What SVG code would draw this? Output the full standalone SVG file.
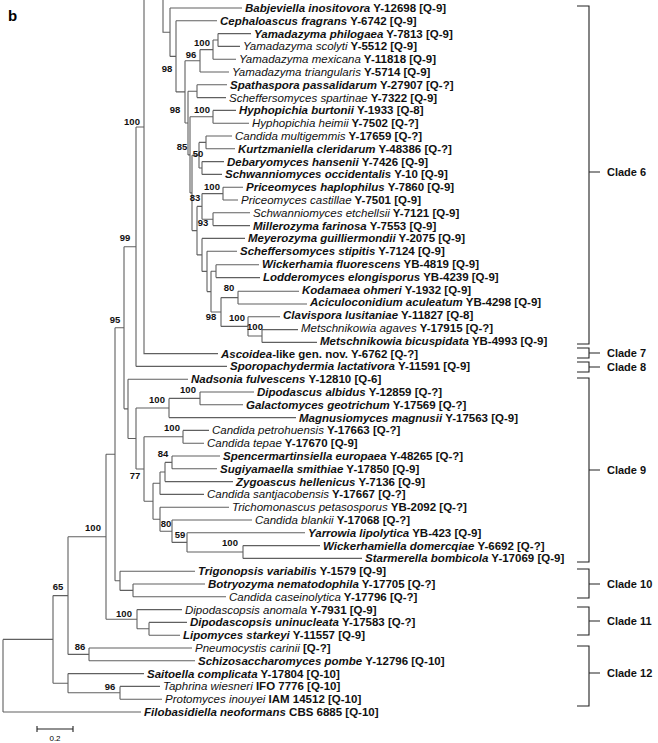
<svg xmlns="http://www.w3.org/2000/svg" width="658" height="743" viewBox="0 0 658 743">
<style>
.br{fill:none;stroke:#606060;stroke-width:1.1}
.lf{font-family:"Liberation Sans",Arial,sans-serif;font-size:11.5px;font-weight:bold;fill:#111}
.ib{font-style:italic}
.in{font-style:italic;font-weight:normal}
.bs{font-family:"Liberation Sans",Arial,sans-serif;font-size:9.5px;font-weight:bold;fill:#111;text-anchor:middle}
.cl{font-family:"Liberation Sans",Arial,sans-serif;font-size:11px;font-weight:bold;fill:#111}
.bk{fill:none;stroke:#222;stroke-width:1.1}
</style>
<rect width="658" height="743" fill="#fff"/>
<text x="8" y="21" style="font-family:'Liberation Sans',Arial,sans-serif;font-size:15px;font-weight:bold">b</text>
<g id="connectors" class="br">
<path d="M163 0 V32.2 H170"/>
<path d="M144 0 V353.6 H218"/>
<path d="M170 8 V56.4 M170 8 H242 M170 56.4 H176"/>
<path d="M176 20.8 V91.9 M176 20.8 H217 M176 91.9 H185"/>
<path d="M185 60.8 V123 M185 60.8 H200 M185 123 H188"/>
<path d="M200 49.6 V72 M200 49.6 H213 M200 72 H229"/>
<path d="M213 40 V59.2 M213 40 H218 M213 59.2 H236"/>
<path d="M218 33.6 V46.4 M218 33.6 H251 M218 46.4 H240"/>
<path d="M188 91.2 V154.9 M188 91.2 H197 M188 154.9 H190"/>
<path d="M197 84.8 V97.6 M197 84.8 H227 M197 97.6 H226"/>
<path d="M190 116.8 V192.9 M190 116.8 H213 M190 192.9 H192"/>
<path d="M213 110.4 V123.2 M213 110.4 H236 M213 123.2 H249"/>
<path d="M192 155.2 V230.6 M192 155.2 H199 M192 230.6 H197"/>
<path d="M199 142.4 V168 M199 142.4 H206 M199 168 H202"/>
<path d="M206 136 V148.8 M206 136 H232 M206 148.8 H235"/>
<path d="M202 161.6 V174.4 M202 161.6 H224 M202 174.4 H222"/>
<path d="M197 206.4 V254.9 M197 206.4 H202 M197 254.9 H202"/>
<path d="M202 193.6 V219.2 M202 193.6 H223 M202 219.2 H213"/>
<path d="M223 187.2 V200 M223 187.2 H243 M223 200 H238"/>
<path d="M213 212.8 V225.6 M213 212.8 H250 M213 225.6 H250"/>
<path d="M202 238.4 V271.4 M202 238.4 H245 M202 271.4 H207"/>
<path d="M207 251.2 V291.6 M207 251.2 H237 M207 291.6 H211"/>
<path d="M211 271.2 V312 M211 271.2 H216 M211 312 H221"/>
<path d="M216 264.8 V277.6 M216 264.8 H259 M216 277.6 H260"/>
<path d="M221 297.6 V326.4 M221 297.6 H238 M221 326.4 H248"/>
<path d="M238 291.2 V304 M238 291.2 H299 M238 304 H307"/>
<path d="M248 316.8 V336 M248 316.8 H280 M248 336 H262"/>
<path d="M262 329.6 V342.4 M262 329.6 H298 M262 342.4 H317"/>
<path d="M136 127 V366.4 M136 127 H144 M136 366.4 H227"/>
<path d="M124 246.7 V408.85 M124 246.7 H136 M124 408.85 H128"/>
<path d="M128 379.2 V438.5 M128 379.2 H188 M128 438.5 H136"/>
<path d="M136 408 V469 M136 408 H169 M136 469 H144"/>
<path d="M169 398.4 V417.6 M169 398.4 H200 M169 417.6 H296"/>
<path d="M200 392 V404.8 M200 392 H254 M200 404.8 H243"/>
<path d="M144 436.8 V501.2 M144 436.8 H183 M144 501.2 H153"/>
<path d="M183 430.4 V443.2 M183 430.4 H209 M183 443.2 H204"/>
<path d="M153 483.2 V519.2 M153 483.2 H160 M153 519.2 H160"/>
<path d="M160 472 V494.4 M160 472 H165 M160 494.4 H204"/>
<path d="M165 462.4 V481.6 M165 462.4 H172 M165 481.6 H233"/>
<path d="M172 456 V468.8 M172 456 H220 M172 468.8 H217"/>
<path d="M160 507.2 V531.2 M160 507.2 H229 M160 531.2 H172"/>
<path d="M172 520 V542.4 M172 520 H252 M172 542.4 H187"/>
<path d="M187 532.8 V552 M187 532.8 H305 M187 552 H243"/>
<path d="M243 545.6 V558.4 M243 545.6 H320 M243 558.4 H362"/>
<path d="M115 327.8 V580.8 M115 327.8 H124 M115 580.8 H120"/>
<path d="M120 571.2 V590.4 M120 571.2 H195 M120 590.4 H133"/>
<path d="M133 584 V596.8 M133 584 H205 M133 596.8 H226"/>
<path d="M106 454.3 V619.2 M106 454.3 H115 M106 619.2 H137"/>
<path d="M137 609.6 V628.8 M137 609.6 H182 M137 628.8 H149"/>
<path d="M149 622.4 V635.2 M149 622.4 H187 M149 635.2 H180"/>
<path d="M68 536.7 V654.4 M68 536.7 H106 M68 654.4 H89"/>
<path d="M89 648 V660.8 M89 648 H192 M89 660.8 H195"/>
<path d="M53 595.6 V683.2 M53 595.6 H68 M53 683.2 H68"/>
<path d="M68 673.6 V692.8 M68 673.6 H144 M68 692.8 H120"/>
<path d="M120 686.4 V699.2 M120 686.4 H160 M120 699.2 H162"/>
<path d="M3 639.4 V712 M3 639.4 H53 M3 712 H141"/>
</g>
<g id="leaves" class="lf">
<g id="leaf-0"><text x="245" y="12"><tspan class="ib">Babjeviella inositovora</tspan> Y-12698 [Q-9]</text></g>
<g id="leaf-1"><text x="220" y="24.8"><tspan class="ib">Cephaloascus fragrans</tspan> Y-6742 [Q-9]</text></g>
<g id="leaf-2"><text x="254" y="37.6"><tspan class="ib">Yamadazyma philogaea</tspan> Y-7813 [Q-9]</text></g>
<g id="leaf-3"><text x="243" y="50.4"><tspan class="in">Yamadazyma scolyti</tspan> Y-5512 [Q-9]</text></g>
<g id="leaf-4"><text x="239" y="63.2"><tspan class="in">Yamadazyma mexicana</tspan> Y-11818 [Q-9]</text></g>
<g id="leaf-5"><text x="232" y="76"><tspan class="in">Yamadazyma triangularis</tspan> Y-5714 [Q-9]</text></g>
<g id="leaf-6"><text x="230" y="88.8"><tspan class="ib">Spathaspora passalidarum</tspan> Y-27907 [Q-?]</text></g>
<g id="leaf-7"><text x="229" y="101.6"><tspan class="in">Scheffersomyces spartinae</tspan> Y-7322 [Q-9]</text></g>
<g id="leaf-8"><text x="239" y="114.4"><tspan class="ib">Hyphopichia burtonii</tspan> Y-1933 [Q-8]</text></g>
<g id="leaf-9"><text x="252" y="127.2"><tspan class="in">Hyphopichia heimii</tspan> Y-7502 [Q-?]</text></g>
<g id="leaf-10"><text x="235" y="140"><tspan class="in">Candida multigemmis</tspan> Y-17659 [Q-?]</text></g>
<g id="leaf-11"><text x="238" y="152.8"><tspan class="ib">Kurtzmaniella cleridarum</tspan> Y-48386 [Q-?]</text></g>
<g id="leaf-12"><text x="227" y="165.6"><tspan class="ib">Debaryomyces hansenii</tspan> Y-7426 [Q-9]</text></g>
<g id="leaf-13"><text x="225" y="178.4"><tspan class="ib">Schwanniomyces occidentalis</tspan> Y-10 [Q-9]</text></g>
<g id="leaf-14"><text x="246" y="191.2"><tspan class="ib">Priceomyces haplophilus</tspan> Y-7860 [Q-9]</text></g>
<g id="leaf-15"><text x="241" y="204"><tspan class="in">Priceomyces castillae</tspan> Y-7501 [Q-9]</text></g>
<g id="leaf-16"><text x="253" y="216.8"><tspan class="in">Schwanniomyces etchellsii</tspan> Y-7121 [Q-9]</text></g>
<g id="leaf-17"><text x="253" y="229.6"><tspan class="ib">Millerozyma farinosa</tspan> Y-7553 [Q-9]</text></g>
<g id="leaf-18"><text x="248" y="242.4"><tspan class="ib">Meyerozyma guilliermondii</tspan> Y-2075 [Q-9]</text></g>
<g id="leaf-19"><text x="240" y="255.2"><tspan class="ib">Scheffersomyces stipitis</tspan> Y-7124 [Q-9]</text></g>
<g id="leaf-20"><text x="262" y="268"><tspan class="ib">Wickerhamia fluorescens</tspan> YB-4819 [Q-9]</text></g>
<g id="leaf-21"><text x="263" y="280.8"><tspan class="ib">Lodderomyces elongisporus</tspan> YB-4239 [Q-9]</text></g>
<g id="leaf-22"><text x="302" y="293.6"><tspan class="ib">Kodamaea ohmeri</tspan> Y-1932 [Q-9]</text></g>
<g id="leaf-23"><text x="310" y="306.4"><tspan class="ib">Aciculoconidium aculeatum</tspan> YB-4298 [Q-9]</text></g>
<g id="leaf-24"><text x="283" y="319.2"><tspan class="ib">Clavispora lusitaniae</tspan> Y-11827 [Q-8]</text></g>
<g id="leaf-25"><text x="301" y="332"><tspan class="in">Metschnikowia agaves</tspan> Y-17915 [Q-?]</text></g>
<g id="leaf-26"><text x="320" y="344.8"><tspan class="ib">Metschnikowia bicuspidata</tspan> YB-4993 [Q-9]</text></g>
<g id="leaf-27"><text x="221" y="357.6"><tspan class="ib">Ascoidea</tspan>-like gen. nov. Y-6762 [Q-?]</text></g>
<g id="leaf-28"><text x="230" y="370.4"><tspan class="ib">Sporopachydermia lactativora</tspan> Y-11591 [Q-9]</text></g>
<g id="leaf-29"><text x="191" y="383.2"><tspan class="ib">Nadsonia fulvescens</tspan> Y-12810 [Q-6]</text></g>
<g id="leaf-30"><text x="257" y="396"><tspan class="ib">Dipodascus albidus</tspan> Y-12859 [Q-?]</text></g>
<g id="leaf-31"><text x="246" y="408.8"><tspan class="ib">Galactomyces geotrichum</tspan> Y-17569 [Q-?]</text></g>
<g id="leaf-32"><text x="299" y="421.6"><tspan class="ib">Magnusiomyces magnusii</tspan> Y-17563 [Q-9]</text></g>
<g id="leaf-33"><text x="212" y="434.4"><tspan class="in">Candida petrohuensis</tspan> Y-17663 [Q-?]</text></g>
<g id="leaf-34"><text x="207" y="447.2"><tspan class="in">Candida tepae</tspan> Y-17670 [Q-9]</text></g>
<g id="leaf-35"><text x="223" y="460"><tspan class="ib">Spencermartinsiella europaea</tspan> Y-48265 [Q-?]</text></g>
<g id="leaf-36"><text x="220" y="472.8"><tspan class="ib">Sugiyamaella smithiae</tspan> Y-17850 [Q-9]</text></g>
<g id="leaf-37"><text x="236" y="485.6"><tspan class="ib">Zygoascus hellenicus</tspan> Y-7136 [Q-9]</text></g>
<g id="leaf-38"><text x="207" y="498.4"><tspan class="in">Candida santjacobensis</tspan> Y-17667 [Q-?]</text></g>
<g id="leaf-39"><text x="232" y="511.2"><tspan class="in">Trichomonascus petasosporus</tspan> YB-2092 [Q-?]</text></g>
<g id="leaf-40"><text x="255" y="524"><tspan class="in">Candida blankii</tspan> Y-17068 [Q-?]</text></g>
<g id="leaf-41"><text x="308" y="536.8"><tspan class="ib">Yarrowia lipolytica</tspan> YB-423 [Q-9]</text></g>
<g id="leaf-42"><text x="323" y="549.6"><tspan class="ib">Wickerhamiella domercqiae</tspan> Y-6692 [Q-?]</text></g>
<g id="leaf-43"><text x="365" y="562.4"><tspan class="ib">Starmerella bombicola</tspan> Y-17069 [Q-9]</text></g>
<g id="leaf-44"><text x="198" y="575.2"><tspan class="ib">Trigonopsis variabilis</tspan> Y-1579 [Q-9]</text></g>
<g id="leaf-45"><text x="208" y="588"><tspan class="ib">Botryozyma nematodophila</tspan> Y-17705 [Q-?]</text></g>
<g id="leaf-46"><text x="229" y="600.8"><tspan class="in">Candida caseinolytica</tspan> Y-17796 [Q-?]</text></g>
<g id="leaf-47"><text x="185" y="613.6"><tspan class="in">Dipodascopsis anomala</tspan> Y-7931 [Q-9]</text></g>
<g id="leaf-48"><text x="190" y="626.4"><tspan class="ib">Dipodascopsis uninucleata</tspan> Y-17583 [Q-?]</text></g>
<g id="leaf-49"><text x="183" y="639.2"><tspan class="ib">Lipomyces starkeyi</tspan> Y-11557 [Q-9]</text></g>
<g id="leaf-50"><text x="195" y="652"><tspan class="in">Pneumocystis carinii</tspan> [Q-?]</text></g>
<g id="leaf-51"><text x="198" y="664.8"><tspan class="ib">Schizosaccharomyces pombe</tspan> Y-12796 [Q-10]</text></g>
<g id="leaf-52"><text x="147" y="677.6"><tspan class="ib">Saitoella complicata</tspan> Y-17804 [Q-10]</text></g>
<g id="leaf-53"><text x="163" y="690.4"><tspan class="in">Taphrina wiesneri</tspan> IFO 7776 [Q-10]</text></g>
<g id="leaf-54"><text x="165" y="703.2"><tspan class="in">Protomyces inouyei</tspan> IAM 14512 [Q-10]</text></g>
<g id="leaf-55"><text x="144" y="716"><tspan class="ib">Filobasidiella neoformans</tspan> CBS 6885 [Q-10]</text></g>
</g>
<g id="bootstrap" class="bs">
<text x="132" y="124.5">100</text>
<text x="167" y="72.4">98</text>
<text x="191" y="58.4">96</text>
<text x="202" y="46.4">100</text>
<text x="175" y="113.4">98</text>
<text x="202" y="113.4">100</text>
<text x="182" y="150.4">85</text>
<text x="198" y="157.4">50</text>
<text x="212" y="190.4">100</text>
<text x="195" y="201.4">83</text>
<text x="203" y="226.4">93</text>
<text x="125" y="241.4">99</text>
<text x="229" y="291.4">80</text>
<text x="211" y="320.4">98</text>
<text x="237" y="321.4">100</text>
<text x="255" y="330.4">100</text>
<text x="115" y="323.4">95</text>
<text x="188" y="393.4">100</text>
<text x="157" y="403.4">100</text>
<text x="172" y="431.4">100</text>
<text x="163" y="457.4">84</text>
<text x="135" y="479.4">77</text>
<text x="93" y="531.4">100</text>
<text x="166" y="527.4">80</text>
<text x="180" y="538.4">59</text>
<text x="230" y="546.4">100</text>
<text x="58" y="590.4">65</text>
<text x="124" y="617.4">100</text>
<text x="80" y="650.4">86</text>
<text x="110" y="690.4">96</text>
</g>
<g id="clade-6"><path class="bk" d="M577 6 H589 V344 H577 M589 172 H600"/><text class="cl" x="607" y="176">Clade 6</text></g>
<g id="clade-7"><path class="bk" d="M577 348 H589 V358 H577 M589 353 H600"/><text class="cl" x="607" y="357">Clade 7</text></g>
<g id="clade-8"><path class="bk" d="M577 362 H589 V372 H577 M589 367 H600"/><text class="cl" x="607" y="371">Clade 8</text></g>
<g id="clade-9"><path class="bk" d="M577 378 H589 V562 H577 M589 470 H600"/><text class="cl" x="607" y="474">Clade 9</text></g>
<g id="clade-10"><path class="bk" d="M577 569 H589 V598 H577 M589 584 H600"/><text class="cl" x="607" y="588">Clade 10</text></g>
<g id="clade-11"><path class="bk" d="M577 607 H589 V635 H577 M589 621 H600"/><text class="cl" x="607" y="625">Clade 11</text></g>
<g id="clade-12"><path class="bk" d="M577 646 H589 V706 H577 M589 673 H600"/><text class="cl" x="607" y="677">Clade 12</text></g>
<g id="scale-bar"><path class="bk" d="M37 729 H73 M37 726 V732 M73 726 V732"/><text x="55" y="741" style="font-family:'Liberation Sans',Arial,sans-serif;font-size:8px;text-anchor:middle">0.2</text></g>
</svg>
